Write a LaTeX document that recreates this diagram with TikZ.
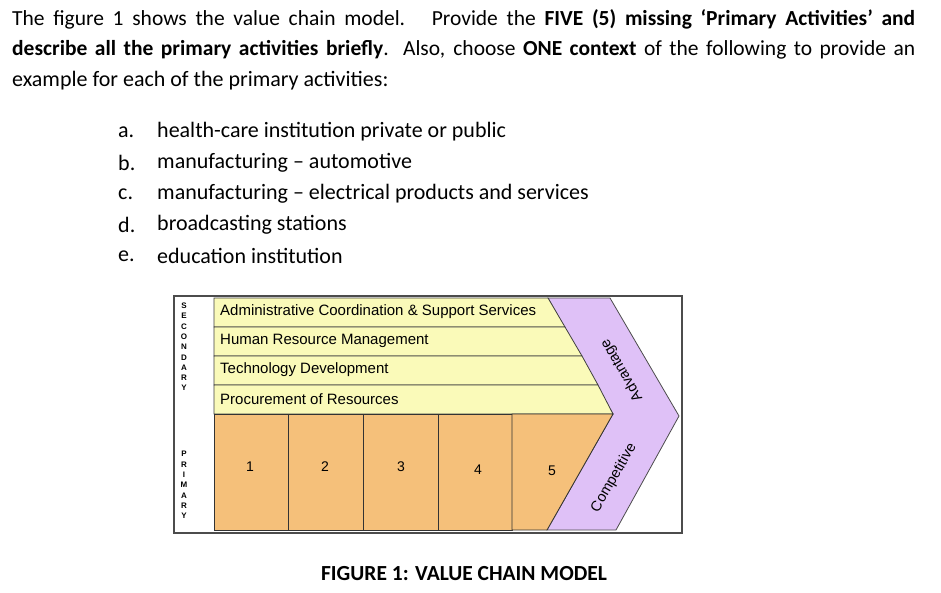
\documentclass[tikz,border=0pt]{standalone}
\usepackage{fontspec}
\setmainfont{Carlito}
\newfontfamily\arialf{Liberation Sans}
\definecolor{bandY}{HTML}{FAFAB9}
\definecolor{cellO}{HTML}{F5C07A}
\definecolor{purp}{HTML}{DFC1F7}
\begin{document}
\begin{tikzpicture}[x=1pt,y=-1pt,
  band/.style={fill=bandY,draw=black!75,line width=0.8pt},
  cell/.style={fill=cellO,draw=black!80,line width=0.8pt},
  lbl/.style={anchor=west,font=\arialf\fontsize{15}{17}\selectfont,inner sep=0pt},
  num/.style={font=\arialf\fontsize{14}{16}\selectfont},
  vert/.style={font=\arialf\bfseries\fontsize{8}{10.3}\selectfont,align=center,inner sep=0pt},
  body/.style={anchor=west,inner sep=0pt,font=\fontsize{21.5}{24}\selectfont},
  item/.style={anchor=west,inner sep=0pt,font=\fontsize{22}{24}\selectfont}]
\useasboundingbox[fill=white] (0,0) rectangle (941,593);
% text
\node[body] (l1) at (12,19) {\makebox[903pt][s]{The figure 1 shows the value chain model. \ Provide the \textbf{FIVE (5) missing ‘Primary Activities’ and}}};
\node[body] (l2) at (12,50) {\makebox[903pt][s]{\textbf{describe all the primary activities briefly}. Also, choose \textbf{ONE context} of the following to provide an}};
\node[item] (l3) at (12,81) {example for each of the primary activities:};
\foreach \l/\t [count=\i] in {a./health-care institution private or public,b./manufacturing -- automotive,c./manufacturing -- electrical products and services,d./broadcasting stations,e./education institution}{
  \node[item] (m\i) at (118,101+31*\i) {\l};
  \node[item] (t\i) at (157,101+31*\i) {\t};
}
% frame
\draw[line width=1.2pt,draw=black!70] (174,296) rectangle (682,533);
% purple chevron
\draw[fill=purp,draw=black!70,line width=0.8pt] (548,298) -- (610,298) -- (679,416) -- (616,530) -- (547,530) -- (613,414) -- cycle;
% secondary bands
\path[band] (214,298) -- (548,298) -- (565,327) -- (214,327) -- cycle;
\path[band] (214,327) -- (565,327) -- (582,356) -- (214,356) -- cycle;
\path[band] (214,356) -- (582,356) -- (598,385) -- (214,385) -- cycle;
\path[band] (214,385) -- (598,385) -- (613,414) -- (214,414) -- cycle;
\node[lbl] (s1) at (220,312) {Administrative Coordination \& Support Services};
\node[lbl] (s2) at (220,341) {Human Resource Management};
\node[lbl] (s3) at (220,370) {Technology Development};
\node[lbl] (s4) at (220,399) {Procurement of Resources};
% primary cells
\path[cell] (214,414) rectangle (288,530);
\path[cell] (288,414) rectangle (363,530);
\path[cell] (363,414) rectangle (438,530);
\path[cell] (438,414) rectangle (512,530);
\path[cell] (512,414) -- (613,414) -- (547,530) -- (512,530) -- cycle;
\node[num] (p1) at (250,467) {1};
\node[num] (p2) at (325,467) {2};
\node[num] (p3) at (401,467) {3};
\node[num] (p4) at (478,470) {4};
\node[num] (p5) at (552,471) {5};
\node[font=\arialf\fontsize{14.5}{16}\selectfont,rotate=60] (ca) at (614,478) {Competitive};
\node[font=\arialf\fontsize{14.5}{16}\selectfont,rotate=120] (ad) at (622,370) {Advantage};
\node[vert] (sec) at (184,347) {S\\E\\C\\O\\N\\D\\A\\R\\Y};
\node[vert] (pri) at (184,485) {P\\R\\I\\M\\A\\R\\Y};
\node[font=\bfseries\fontsize{21.5}{24}\selectfont] (cap) at (464,574) {FIGURE 1: VALUE CHAIN MODEL};
\end{tikzpicture}
\end{document}
